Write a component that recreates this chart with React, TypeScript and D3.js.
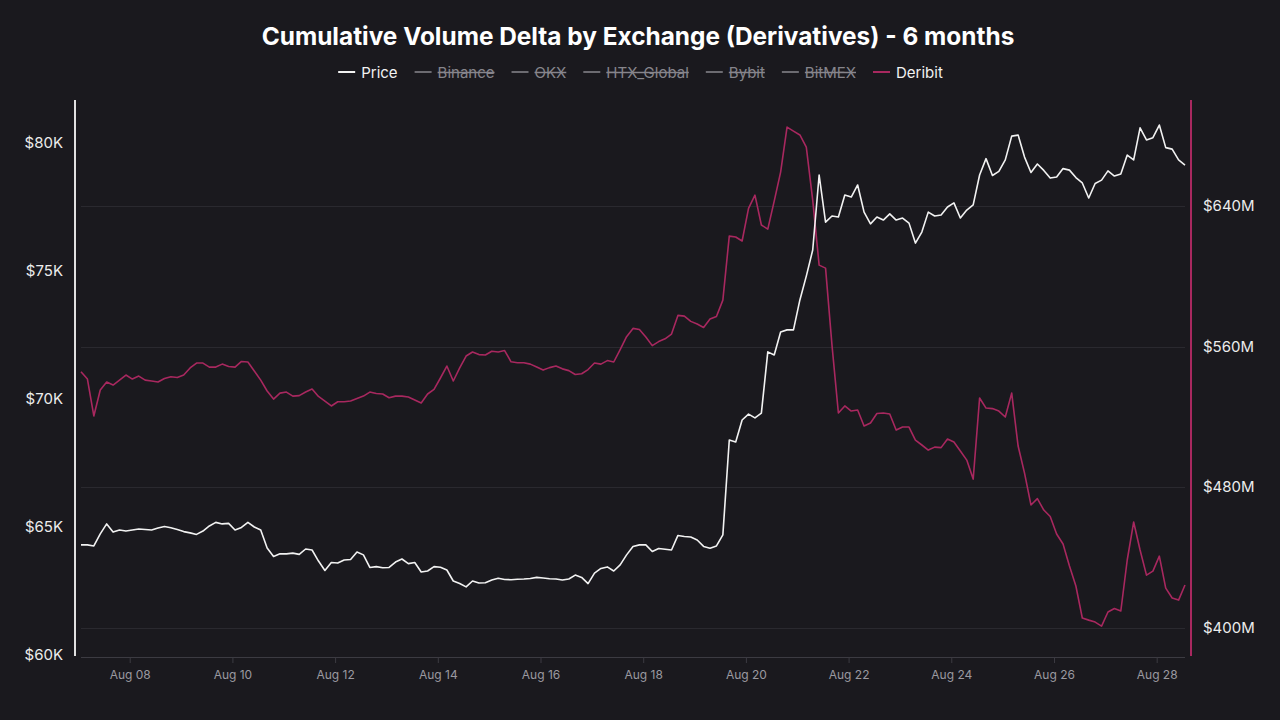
import React, { useEffect, useRef } from "react";
import * as d3 from "d3";

// 3-hourly samples, starting Aug 7 01:00 UTC
const startTime = Date.UTC(2024, 7, 7, 1);
const stepHours = 3;

const priceValues = [
  64300, 64300, 64260, 64730, 65120, 64800, 64880, 64840, 64880, 64920,
  64900, 64880, 64960, 65020, 64970, 64900, 64820, 64770, 64710, 64840,
  65040, 65180, 65120, 65140, 64880, 64980, 65180, 65000, 64880, 64180,
  63850, 63950, 63950, 63980, 63930, 64140, 64100, 63670, 63300, 63610,
  63590, 63710, 63730, 64020, 63910, 63420, 63450, 63410, 63420, 63630,
  63750, 63570, 63610, 63240, 63280, 63450, 63430, 63320, 62890, 62790,
  62660, 62890, 62810, 62820, 62930, 63000, 62950, 62940, 62960, 62970,
  62990, 63030, 63010, 62980, 62970, 62930, 62970, 63120, 63030, 62790,
  63200, 63380, 63440, 63280, 63520, 63910, 64240, 64300, 64300, 64040,
  64160, 64130, 64100, 64670, 64630, 64610, 64490, 64240, 64170, 64260,
  64690, 68400, 68320, 69180, 69410, 69260, 69450, 71840, 71720, 72620,
  72700, 72700, 73870, 74800, 75820, 78750, 76910, 77150, 77110, 77970,
  77890, 78360, 77300, 76840, 77110, 76990, 77230, 76990, 77070, 76870,
  76090, 76520, 77300, 77150, 77190, 77500, 77660, 77070, 77380, 77580,
  78750, 79390, 78730, 78890, 79340, 80270, 80310, 79450, 78850, 79180,
  78930, 78630, 78670, 79000, 78940, 78650, 78440, 77850, 78420, 78550,
  78910, 78710, 78790, 79530, 79340, 80590, 80120, 80210, 80700, 79820,
  79760, 79340, 79140,
];

// Deribit cumulative volume delta, $M
const deribitValues = [
  545.8, 541.6, 520.6, 535.4, 539.9, 538.2, 541.0, 543.9, 541.6, 543.3,
  541.0, 540.5, 539.9, 541.9, 542.9, 542.5, 543.9, 547.9, 550.7, 550.7,
  548.4, 548.4, 550.1, 548.7, 548.4, 551.6, 551.3, 546.2, 541.0, 534.8,
  530.2, 533.6, 534.2, 531.9, 532.2, 534.2, 535.9, 531.7, 529.1, 526.3,
  528.7, 528.7, 529.1, 530.5, 531.9, 534.2, 533.4, 533.1, 531.0, 531.9,
  531.9, 531.4, 529.7, 528.0, 533.1, 535.7, 542.2, 549.0, 540.5, 547.9,
  554.7, 557.0, 555.5, 555.3, 557.4, 557.0, 557.8, 551.4, 550.9, 550.9,
  550.1, 548.4, 546.7, 548.1, 549.0, 547.4, 546.4, 544.2, 544.6, 547.0,
  550.7, 550.1, 552.1, 551.3, 558.4, 565.7, 570.4, 569.8, 565.5, 560.6,
  562.9, 564.5, 567.2, 577.8, 577.4, 574.4, 572.9, 570.9, 575.7, 577.2,
  586.5, 622.9, 622.4, 620.1, 638.7, 646.2, 629.2, 626.9, 642.8, 659.3,
  684.9, 682.6, 680.4, 673.5, 643.4, 606.4, 604.7, 560.9, 522.3, 526.3,
  523.4, 524.0, 514.9, 516.6, 522.0, 522.3, 521.7, 512.6, 514.3, 514.3,
  506.9, 504.1, 501.2, 502.9, 502.6, 507.5, 505.8, 500.7, 495.5, 484.7,
  530.8, 525.1, 524.8, 523.4, 520.0, 533.6, 503.5, 488.1, 470.0, 473.6,
  467.1, 463.4, 453.5, 447.8, 435.3, 423.9, 405.7, 404.5, 403.4, 401.1,
  409.1, 411.1, 409.7, 438.7, 460.3, 444.4, 430.1, 432.4, 440.9, 422.7,
  417.1, 415.9, 424.5,
];

const priceTicks = [60000, 65000, 70000, 75000, 80000];
const deltaTicks = [400, 480, 560, 640];
const dateTicks = [8, 10, 12, 14, 16, 18, 20, 22, 24, 26, 28].map((d) => new Date(Date.UTC(2024, 7, d)));

const legendItems = [
  { name: "Price", color: "#f2f2f2", hidden: false },
  { name: "Binance", color: "#6c6b71", hidden: true },
  { name: "OKX", color: "#6c6b71", hidden: true },
  { name: "HTX_Global", color: "#6c6b71", hidden: true },
  { name: "Bybit", color: "#6c6b71", hidden: true },
  { name: "BitMEX", color: "#6c6b71", hidden: true },
  { name: "Deribit", color: "#a8285f", hidden: false },
];

const title = "Cumulative Volume Delta by Exchange (Derivatives) - 6 months";

const W = 1280;
const H = 720;
const bg = "#1a191e";
const pink = "#a8285f";
const font = "Inter, 'Noto Sans', sans-serif";

const App = () => {
  const svgRef = useRef(null);

  useEffect(() => {
    const svg = d3.select(svgRef.current);
    svg.selectAll("*").remove();

    const times = priceValues.map((_, i) => new Date(startTime + i * stepHours * 3600 * 1000));

    const x = d3.scaleUtc().domain([times[0], times[times.length - 1]]).range([81, 1185]);
    const yPrice = d3.scaleLinear().domain([59960, 81680]).range([656, 100]);
    const yDelta = d3.scaleLinear().domain([384.1, 700.3]).range([656, 100]);

    svg.append("rect").attr("width", W).attr("height", H).attr("fill", bg);

    // title
    svg
      .append("text")
      .attr("x", 638)
      .attr("y", 45)
      .attr("text-anchor", "middle")
      .attr("fill", "#ffffff")
      .style("font-family", font)
      .style("font-weight", 700)
      .style("font-size", "24.4px")
      .text(title);

    // gridlines (right axis)
    svg
      .append("g")
      .selectAll("line")
      .data(deltaTicks)
      .join("line")
      .attr("x1", 81)
      .attr("x2", 1185)
      .attr("y1", (d) => Math.round(yDelta(d)) + 0.5)
      .attr("y2", (d) => Math.round(yDelta(d)) + 0.5)
      .attr("stroke", "#2a292f")
      .attr("stroke-width", 1);

    // bottom axis
    const xAxis = svg.append("g").attr("transform", "translate(0,657)");
    xAxis.append("line").attr("x1", 81).attr("x2", 1185).attr("y1", 0.5).attr("y2", 0.5).attr("stroke", "#3c3b42");
    const xt = xAxis.selectAll("g").data(dateTicks).join("g").attr("transform", (d) => `translate(${x(d)},0)`);
    xt.append("line").attr("y1", 0).attr("y2", 6).attr("stroke", "#3c3b42");
    xt.append("text")
      .attr("y", 22)
      .attr("text-anchor", "middle")
      .attr("fill", "#9a99a0")
      .style("font-family", font)
      .style("font-size", "12px")
      .text((d) => d3.utcFormat("%b %d")(d));

    // left axis
    svg.append("line").attr("x1", 75).attr("x2", 75).attr("y1", 100).attr("y2", 656).attr("stroke", "#e0e0e0").attr("stroke-width", 2);
    svg
      .append("g")
      .selectAll("text")
      .data(priceTicks)
      .join("text")
      .attr("x", 63)
      .attr("y", (d) => yPrice(d) + 5)
      .attr("text-anchor", "end")
      .attr("fill", "#ececec")
      .style("font-family", font)
      .style("font-size", "15px")
      .text((d) => `$${d / 1000}K`);

    // right axis
    svg.append("line").attr("x1", 1191).attr("x2", 1191).attr("y1", 100).attr("y2", 656).attr("stroke", pink).attr("stroke-width", 2);
    svg
      .append("g")
      .selectAll("text")
      .data(deltaTicks)
      .join("text")
      .attr("x", 1203)
      .attr("y", (d) => yDelta(d) + 5)
      .attr("fill", "#ececec")
      .style("font-family", font)
      .style("font-size", "15px")
      .text((d) => `$${d}M`);

    // lines
    const deltaLine = d3
      .line<number>()
      .x((_, i) => x(times[i]))
      .y((d) => yDelta(d));
    svg
      .append("path")
      .datum(deribitValues)
      .attr("d", deltaLine)
      .attr("fill", "none")
      .attr("stroke", pink)
      .attr("stroke-width", 1.6)
      .attr("stroke-linejoin", "round");

    const priceLine = d3
      .line<number>()
      .x((_, i) => x(times[i]))
      .y((d) => yPrice(d));
    svg
      .append("path")
      .datum(priceValues)
      .attr("d", priceLine)
      .attr("fill", "none")
      .attr("stroke", "#f2f2f2")
      .attr("stroke-width", 1.6)
      .attr("stroke-linejoin", "round");

    // legend, laid out from measured text widths
    const legend = svg.append("g");
    const gap = 17;
    let cx = 0;
    legendItems.forEach((it) => {
      const g = legend.append("g").attr("transform", `translate(${cx},0)`);
      g.append("line").attr("x1", 0).attr("x2", 17).attr("y1", 0).attr("y2", 0).attr("stroke", it.color).attr("stroke-width", 2);
      const t = g
        .append("text")
        .attr("x", 23)
        .attr("y", 5.5)
        .attr("fill", it.hidden ? "#86858c" : "#f2f2f2")
        .style("font-family", font)
        .style("font-size", "15px")
        .style("text-decoration", it.hidden ? "line-through" : "none")
        .text(it.name);
      cx += 23 + (t.node() as SVGTextElement).getComputedTextLength() + gap;
    });
    const total = cx - gap;
    legend.attr("transform", `translate(${640.5 - total / 2},72)`);
  }, []);

  return (
    <svg
      ref={svgRef}
      width={W}
      height={H}
      style={{ position: "absolute", left: 0, top: 0, display: "block" }}
    ></svg>
  );
};

export default App;
